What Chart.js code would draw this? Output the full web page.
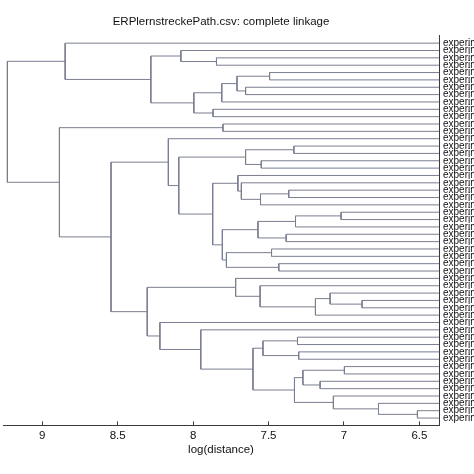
<!DOCTYPE html>
<html>
<head>
<meta charset="utf-8">
<script src="https://cdn.jsdelivr.net/npm/chart.js@4.4.1/dist/chart.umd.min.js"></script>
<style>
html,body{margin:0;padding:0;background:#ffffff;}
#wrap{width:474px;height:474px;}
</style>
</head>
<body>
<div id="wrap"><canvas id="c" width="474" height="474"></canvas></div>
<script>
// Leaf labels, top to bottom
const leafLabels = [
  'experiment01','experiment02','experiment03','experiment04','experiment05','experiment06',
  'experiment07','experiment08','experiment09','experiment10','experiment11','experiment12',
  'experiment13','experiment14','experiment15','experiment16','experiment17','experiment18',
  'experiment19','experiment20','experiment21','experiment22','experiment23','experiment24',
  'experiment25','experiment26','experiment27','experiment28','experiment29','experiment30',
  'experiment31','experiment32','experiment33','experiment34','experiment35','experiment36',
  'experiment37','experiment38','experiment39','experiment40','experiment41','experiment42',
  'experiment43','experiment44','experiment45','experiment46','experiment47','experiment48',
  'experiment49','experiment50','experiment51','experiment52'
];

// Linkage: merge k creates node (leafLabels.length + k) from mergeA[k] and mergeB[k]
const mergeA = [50,2,4,6,54,56,9,57,1,60, 0,11,14,16,64,20,67,19,18,23,
                71,26,72,28,30,75,74,70,66,13, 35,34,83,33,32,40,42,87,44,46,
                90,49,48,92,89,39,38,86,81,63, 62];
const mergeB = [51,3,5,7,55,8,10,58,53,59, 61,12,15,17,65,21,22,68,69,24,
                25,27,73,29,31,76,77,78,79,80, 36,82,37,84,85,41,43,88,45,47,
                91,52,93,94,95,96,97,98,99,100, 101];
// log(distance) of each merge
const mergeHeight = [6.513,7.845,7.493,7.652,7.709,7.810,7.868,7.995,8.081,8.280,
                     8.848,7.802,7.332,7.548,7.652,7.366,7.553,7.680,7.703,7.019,
                     7.321,7.383,7.570,7.480,7.432,7.779,7.806,7.870,8.095,8.164,
                     6.880,7.092,7.189,7.556,7.718,7.308,7.300,7.537,6.997,7.158,
                     7.272,6.771,7.070,7.328,7.603,7.949,8.220,8.304,8.544,8.886,
                     9.231];

const xTicks = [6.5, 7, 7.5, 8, 8.5, 9];
const xRange = [6.37, 9.26];

const FONT = "'Liberation Sans', Arial, Helvetica, sans-serif";
const LINK_COLOR = '#7a7e90';
const AXIS_COLOR = '#3a3a3a';

// Build node positions (leaf order = array order)
const n = leafLabels.length;
const nodeX = [], nodeY = [];
for (let i = 0; i < n; i++) { nodeX.push(xRange[0]); nodeY.push(i + 1); }
const datasets = [];
for (let k = 0; k < mergeA.length; k++) {
  const a = mergeA[k], b = mergeB[k], h = mergeHeight[k];
  datasets.push({
    data: [
      {x: nodeX[a], y: nodeY[a]},
      {x: h, y: nodeY[a]},
      {x: h, y: nodeY[b]},
      {x: nodeX[b], y: nodeY[b]}
    ],
    showLine: true,
    borderColor: LINK_COLOR,
    borderWidth: 1,
    pointRadius: 0,
    pointHoverRadius: 0,
    fill: false,
    tension: 0
  });
  nodeX.push(h);
  nodeY.push((nodeY[a] + nodeY[b]) / 2);
}

new Chart(document.getElementById('c').getContext('2d'), {
  type: 'scatter',
  data: { datasets },
  options: {
    responsive: false,
    animation: false,
    events: [],
    layout: { padding: { left: 3, right: 0, top: 0, bottom: 0 } },
    plugins: {
      legend: { display: false },
      tooltip: { enabled: false },
      title: {
        display: true,
        text: 'ERPlernstreckePath.csv: complete linkage',
        fullSize: false,
        color: '#111',
        font: { family: FONT, size: 11.5, weight: 'normal' },
        padding: { top: 15, bottom: 7 }
      }
    },
    scales: {
      x: {
        type: 'linear',
        position: 'bottom',
        reverse: true,
        min: xRange[0],
        max: xRange[1],
        afterBuildTicks: s => { s.ticks = xTicks.map(v => ({ value: v })); },
        ticks: {
          autoSkip: false,
          maxRotation: 0,
          padding: 8,
          color: '#111',
          font: { family: FONT, size: 11.5 },
          callback: v => String(v)
        },
        grid: {
          display: true,
          drawOnChartArea: false,
          drawTicks: true,
          tickLength: -4,
          color: AXIS_COLOR
        },
        border: { display: true, color: AXIS_COLOR, width: 1 },
        title: {
          display: true,
          text: 'log(distance)',
          color: '#111',
          font: { family: FONT, size: 11.5 },
          padding: { top: -8, bottom: 17 }
        }
      },
      y: {
        type: 'linear',
        position: 'right',
        reverse: true,
        min: 0,
        max: leafLabels.length + 1,
        afterBuildTicks: s => { s.ticks = leafLabels.map((_, i) => ({ value: i + 1 })); },
        afterFit: s => { s.width = 35; },
        ticks: {
          autoSkip: false,
          padding: 4,
          color: '#111',
          font: { family: FONT, size: 10 },
          callback: v => leafLabels[v - 1]
        },
        grid: { display: false, drawTicks: false },
        border: { display: true, color: AXIS_COLOR, width: 1 }
      }
    }
  }
});
</script>
</body>
</html>
